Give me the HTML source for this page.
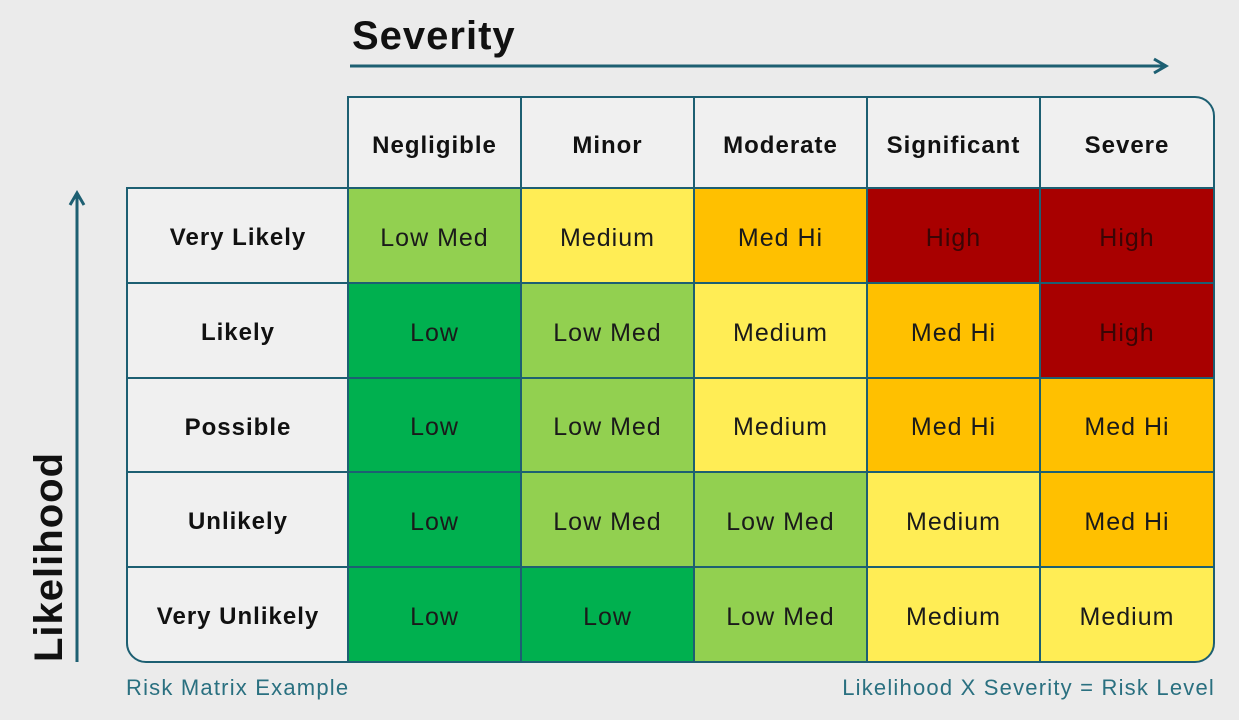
<!DOCTYPE html>
<html><head><style>
body{margin:0;width:1239px;height:720px;background:#ebebeb;font-family:"Liberation Sans",sans-serif;position:relative;overflow:hidden}
.c{position:absolute;box-sizing:border-box;border:2px solid #1d5f72;display:flex;align-items:center;justify-content:center;font-size:25px;color:#1a1a1a;letter-spacing:1px;padding-top:5px}
.h{background:#f0f0f0;font-weight:bold;font-size:24px;color:#111;letter-spacing:1px}
.L{background:#00b04f}.LM{background:#92d050}.M{background:#ffed55}.MH{background:#ffc000}.H{background:#a80000;color:#3a0505}
.f{position:absolute;top:675px;font-size:22px;color:#2a7080;letter-spacing:1.2px}
</style></head><body>
<div style="position:absolute;left:352px;top:14px;font-size:40px;font-weight:bold;color:#111;letter-spacing:1px">Severity</div>
<svg style="position:absolute;left:0;top:0" width="1239" height="720">
<line x1="350" y1="66" x2="1164" y2="66" stroke="#1d5f72" stroke-width="3"/>
<polyline points="1154,59 1166,66 1154,73" fill="none" stroke="#1d5f72" stroke-width="3"/>
<line x1="77" y1="195" x2="77" y2="662" stroke="#1d5f72" stroke-width="3"/>
<polyline points="70,205 77,193 84,205" fill="none" stroke="#1d5f72" stroke-width="3"/>
<text x="62" y="662" transform="rotate(-90 62 662)" font-family="Liberation Sans" font-weight="bold" font-size="40" fill="#111" letter-spacing="1">Likelihood</text>
</svg>
<div id="g"></div>
<div class="f" style="left:126px">Risk Matrix Example</div>
<div class="f" style="right:24px">Likelihood X Severity = Risk Level</div>
<script>
var cols=[348,521,694,867,1040,1214],rows=[188,283,378,472,567,662];
var hd=["Negligible","Minor","Moderate","Significant","Severe"];
var rl=["Very Likely","Likely","Possible","Unlikely","Very Unlikely"];
var d=[["LM","M","MH","H","H"],["L","LM","M","MH","H"],["L","LM","M","MH","MH"],["L","LM","LM","M","MH"],["L","L","LM","M","M"]];
var t={L:"Low",LM:"Low Med",M:"Medium",MH:"Med Hi",H:"High"};
var s="";
function c(x,y,w,h,cl,tx,st){s+='<div class="c '+cl+'" style="left:'+x+'px;top:'+y+'px;width:'+w+'px;height:'+h+'px;'+(st||'')+'">'+tx+'</div>';}
for(var i=0;i<5;i++)c(cols[i]-1,96,cols[i+1]-cols[i]+2,94,"h",hd[i],i==4?"border-top-right-radius:20px":"");
for(var r=0;r<5;r++){
c(126,rows[r]-1,224,rows[r+1]-rows[r]+2,"h",rl[r],r==4?"border-bottom-left-radius:20px":"");
for(var i=0;i<5;i++)c(cols[i]-1,rows[r]-1,cols[i+1]-cols[i]+2,rows[r+1]-rows[r]+2,d[r][i],t[d[r][i]],(r==4&&i==4)?"border-bottom-right-radius:20px":"");
}
document.getElementById("g").innerHTML=s;
</script>
</body></html>
